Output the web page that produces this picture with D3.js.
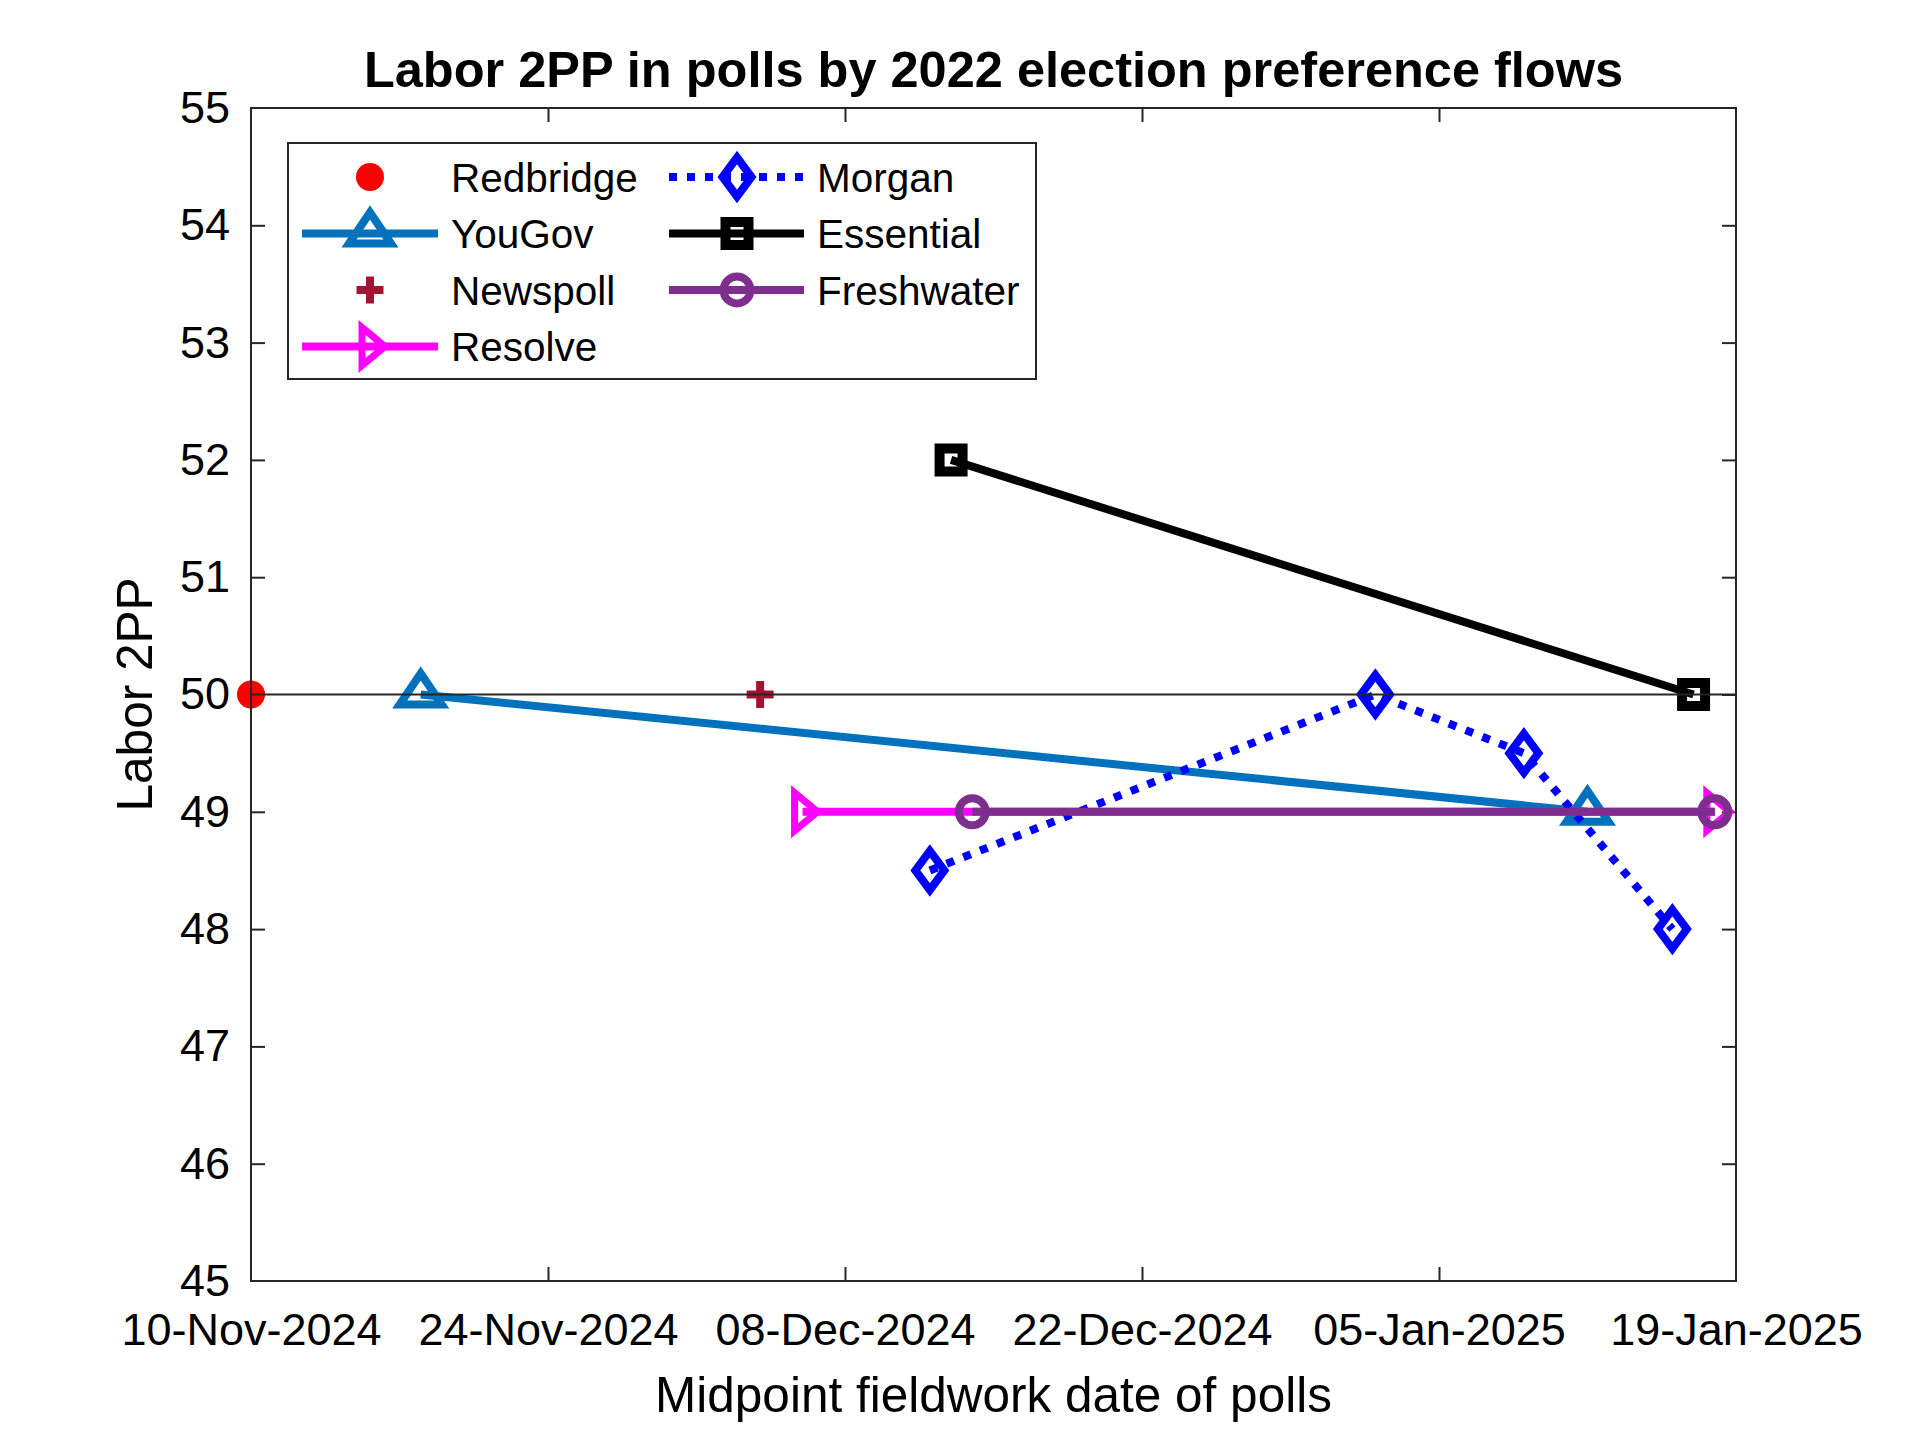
<!DOCTYPE html>
<html>
<head>
<meta charset="utf-8">
<script src="https://cdn.jsdelivr.net/npm/d3@7"></script>
<style>
  html, body { margin: 0; padding: 0; background: #ffffff; }
  svg { display: block; }
  text { font-family: "Liberation Sans", Arial, Helvetica, sans-serif; fill: #000; }
</style>
</head>
<body>
<script>
// ---------------- data ----------------
const seriesNames = ["Redbridge", "YouGov", "Newspoll", "Resolve", "Morgan", "Essential", "Freshwater"];

const redbridgeDates  = ["2024-11-10"];
const redbridgeValues = [50];

const yougovDates  = ["2024-11-18", "2025-01-12"];
const yougovValues = [50, 49];

const newspollDates  = ["2024-12-04"];
const newspollValues = [50];

const resolveDates  = ["2024-12-06", "2025-01-18"];
const resolveValues = [49, 49];

const morganDates  = ["2024-12-12", "2025-01-02", "2025-01-09", "2025-01-16"];
const morganValues = [48.5, 50, 49.5, 48];

const essentialDates  = ["2024-12-13", "2025-01-17"];
const essentialValues = [52, 50];

const freshwaterDates  = ["2024-12-14", "2025-01-18"];
const freshwaterValues = [49, 49];

const xTickLabels = ["10-Nov-2024", "24-Nov-2024", "08-Dec-2024", "22-Dec-2024", "05-Jan-2025", "19-Jan-2025"];
const yTicks = [45, 46, 47, 48, 49, 50, 51, 52, 53, 54, 55];
const referenceLine = 50;

const titleText = "Labor 2PP in polls by 2022 election preference flows";
const xLabelText = "Midpoint fieldwork date of polls";
const yLabelText = "Labor 2PP";

// ---------------- setup ----------------
const W = 1920, H = 1439;
const M = { left: 251, right: 1736, top: 108, bottom: 1281 };
const parse = d3.utcParse("%Y-%m-%d");
const fmt = d3.utcFormat("%d-%b-%Y");
const tickDates = xTickLabels.map(d3.utcParse("%d-%b-%Y"));

const x = d3.scaleUtc().domain([tickDates[0], tickDates[tickDates.length - 1]]).range([M.left, M.right]);
const y = d3.scaleLinear().domain([45, 55]).range([M.bottom, M.top]);

const svg = d3.select("body").append("svg").attr("width", W).attr("height", H);
svg.append("rect").attr("width", W).attr("height", H).attr("fill", "#fff");

const axisColor = "#262626";
const LW = 8;

// marker shapes
function markerPath(shape) {
  switch (shape) {
    case "triUp":    return "M-21,10L0,-21L21,10Z";
    case "triRight": return "M-8,-19L15,0L-8,19Z";
    case "diamond":  return "M0,-19.5L14.5,0L0,19.5L-14.5,0Z";
    case "square":   return "M-11.5,-11.5L11.5,-11.5L11.5,11.5L-11.5,11.5Z";
    case "circle":   return "M13.5,0A13.5,13.5 0 1,1 -13.5,0A13.5,13.5 0 1,1 13.5,0Z";
    case "dot":      return "M14,0A14,14 0 1,1 -14,0A14,14 0 1,1 14,0Z";
    case "plus":     return "M-13.5,0L13.5,0M0,-13.5L0,13.5";
  }
}

const series = [
  { name: seriesNames[0], dates: redbridgeDates,  values: redbridgeValues,  color: "#FF0000", line: false, marker: "dot",      filled: true,  mw: 0 },
  { name: seriesNames[1], dates: yougovDates,     values: yougovValues,     color: "#0072BD", line: true,  marker: "triUp",    filled: false, mw: 8 },
  { name: seriesNames[2], dates: newspollDates,   values: newspollValues,   color: "#A2142F", line: false, marker: "plus",     filled: false, mw: 8 },
  { name: seriesNames[3], dates: resolveDates,    values: resolveValues,    color: "#FF00FF", line: true,  marker: "triRight", filled: false, mw: 7 },
  { name: seriesNames[4], dates: morganDates,     values: morganValues,     color: "#0000FF", line: true,  marker: "diamond",  filled: false, mw: 8, dash: "8,10" },
  { name: seriesNames[5], dates: essentialDates,  values: essentialValues,  color: "#000000", line: true,  marker: "square",   filled: false, mw: 10 },
  { name: seriesNames[6], dates: freshwaterDates, values: freshwaterValues, color: "#7E2F8E", line: true,  marker: "circle",   filled: false, mw: 8 }
];

function drawMarker(g, s, cx, cy) {
  g.append("path")
    .attr("d", markerPath(s.marker))
    .attr("transform", `translate(${cx},${cy})`)
    .attr("fill", s.filled ? s.color : "none")
    .attr("stroke", s.filled ? "none" : s.color)
    .attr("stroke-width", s.mw)
    .attr("stroke-linejoin", "miter")
    .attr("stroke-miterlimit", 3);
}

// ---------------- axes (ticks inward, box) ----------------
const xAxisB = d3.axisBottom(x).tickValues(tickDates).tickFormat(fmt).tickSizeInner(-14).tickSizeOuter(0).tickPadding(32);
const xAxisT = d3.axisTop(x).tickValues(tickDates).tickFormat("").tickSizeInner(-14).tickSizeOuter(0);
const yAxisL = d3.axisLeft(y).tickValues(yTicks).tickFormat(d3.format("d")).tickSizeInner(-14).tickSizeOuter(0).tickPadding(21);
const yAxisR = d3.axisRight(y).tickValues(yTicks).tickFormat("").tickSizeInner(-14).tickSizeOuter(0);

function styleAxis(g) {
  g.select(".domain").remove();
  g.selectAll(".tick line").attr("stroke", axisColor).attr("stroke-width", 2);
  g.selectAll(".tick text").attr("font-size", 45).attr("fill", "#000")
    .attr("font-family", "'Liberation Sans', Arial, sans-serif");
}

const gx = svg.append("g").attr("transform", `translate(0,${M.bottom})`).call(xAxisB).call(styleAxis);
gx.selectAll(".tick").filter((d, i) => i === 0 || i === tickDates.length - 1).select("line").remove();
const gxt = svg.append("g").attr("transform", `translate(0,${M.top})`).call(xAxisT).call(styleAxis);
gxt.selectAll(".tick").filter((d, i) => i === 0 || i === tickDates.length - 1).select("line").remove();
const gy = svg.append("g").attr("transform", `translate(${M.left},0)`).call(yAxisL).call(styleAxis);
gy.selectAll(".tick").filter(d => d === 45 || d === 55).select("line").remove();
const gyr = svg.append("g").attr("transform", `translate(${M.right},0)`).call(yAxisR).call(styleAxis);
gyr.selectAll(".tick").filter(d => d === 45 || d === 55).select("line").remove();

// ---------------- data ----------------
const plot = svg.append("g");
const lineGen = d3.line().x(d => x(d[0])).y(d => y(d[1]));

series.forEach(s => {
  const pts = s.dates.map((d, i) => [parse(d), s.values[i]]);
  if (s.line && pts.length > 1) {
    plot.append("path")
      .attr("d", lineGen(pts))
      .attr("fill", "none")
      .attr("stroke", s.color)
      .attr("stroke-width", LW)
      .attr("stroke-dasharray", s.dash || null)
      .attr("stroke-linecap", "butt");
  }
  pts.forEach(p => drawMarker(plot, s, x(p[0]), y(p[1])));
});

// reference line
svg.append("line")
  .attr("x1", M.left).attr("x2", M.right)
  .attr("y1", y(referenceLine)).attr("y2", y(referenceLine))
  .attr("stroke", axisColor).attr("stroke-width", 2);

// box
svg.append("rect")
  .attr("x", M.left).attr("y", M.top)
  .attr("width", M.right - M.left).attr("height", M.bottom - M.top)
  .attr("fill", "none").attr("stroke", axisColor).attr("stroke-width", 2);

// ---------------- labels ----------------
svg.append("text").attr("x", (M.left + M.right) / 2).attr("y", 87)
  .attr("text-anchor", "middle").attr("font-size", 50.5).attr("font-weight", "bold")
  .text(titleText);

svg.append("text").attr("x", (M.left + M.right) / 2).attr("y", 1412)
  .attr("text-anchor", "middle").attr("font-size", 49.5)
  .text(xLabelText);

svg.append("text")
  .attr("transform", `translate(152,${(M.top + M.bottom) / 2}) rotate(-90)`)
  .attr("text-anchor", "middle").attr("font-size", 49.5)
  .text(yLabelText);

// ---------------- legend ----------------
const legend = svg.append("g");
legend.append("rect")
  .attr("x", 288).attr("y", 143).attr("width", 748).attr("height", 236)
  .attr("fill", "#fff").attr("stroke", axisColor).attr("stroke-width", 2);

const rowY = [177, 233.5, 290, 346.5];
const cols = [
  { x1: 302, x2: 438, mx: 370, tx: 451 },
  { x1: 669, x2: 804, mx: 737, tx: 817 }
];
series.forEach((s, i) => {
  const c = cols[i < 4 ? 0 : 1];
  const ry = rowY[i < 4 ? i : i - 4];
  if (s.line) {
    legend.append("line")
      .attr("x1", c.x1).attr("x2", c.x2).attr("y1", ry).attr("y2", ry)
      .attr("stroke", s.color).attr("stroke-width", LW)
      .attr("stroke-dasharray", s.dash || null);
  }
  drawMarker(legend, s, c.mx, ry);
  legend.append("text").attr("x", c.tx).attr("y", ry + 14.5)
    .attr("font-size", 40.5).text(s.name);
});
</script>
</body>
</html>
